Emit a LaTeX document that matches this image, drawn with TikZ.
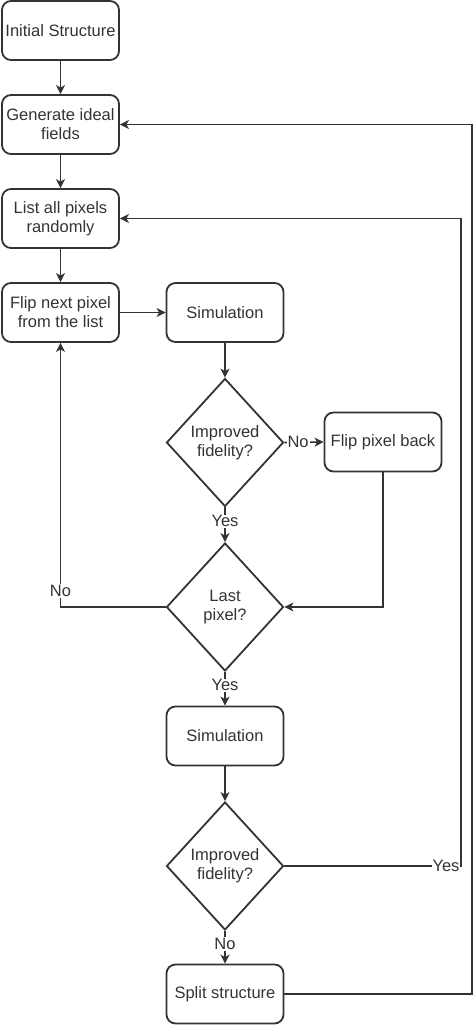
\documentclass[tikz,border=0pt]{standalone}
\usepackage{fontspec}
\setmainfont{Liberation Sans}
\usetikzlibrary{shapes.geometric,arrows.meta}
\definecolor{ink}{HTML}{333333}
\begin{document}
\begin{tikzpicture}[x=1pt,y=-1pt,
  every node/.style={font=\fontsize{16.5}{19}\selectfont, text=ink},
  proc/.style={draw=ink, line width=1.8pt, rounded corners=9pt, minimum width=117pt, minimum height=59pt, align=center, inner sep=1pt},
  dec/.style={draw=ink, line width=1.8pt, shape=diamond, minimum width=117pt, minimum height=128pt, inner sep=0pt, align=center},
  conn/.style={draw=ink, line width=1.6pt, -{Stealth[length=9pt,width=9pt,inset=2.5pt]}},
  lbl/.style={fill=white, inner sep=1pt}]
\useasboundingbox (0,0) rectangle (474,1026);
\node[proc] (init) at (60.5,30.5) {Initial Structure};
\node[proc] (gen) at (60.5,124.5) {Generate ideal\\fields};
\node[proc] (list) at (60.5,218.5) {List all pixels\\randomly};
\node[proc] (flip) at (60.5,312.5) {Flip next pixel\\from the list};
\node[proc] (sim1) at (225,312.5) {Simulation};
\node[dec] (dec1) at (225,442.5) {Improved\\fidelity?};
\node[proc] (back) at (383,442) {Flip pixel back};
\node[dec] (dec2) at (225,607) {Last\\pixel?};
\node[proc] (sim2) at (225,736) {Simulation};
\node[dec] (dec3) at (225,866) {Improved\\fidelity?};
\node[proc] (split) at (225,994) {Split structure};
\coordinate (c1) at (461,866);
\coordinate (c2) at (472,994);
\draw[conn] (init) -- (gen);
\draw[conn] (gen) -- (list);
\draw[conn] (list) -- (flip);
\draw[conn] (flip) -- (sim1);
\draw[conn] (sim1) -- (dec1);
\draw[conn] (dec1.east) -- node[lbl, pos=0.35]{No} (back.west);
\draw[conn] (dec1.south) -- node[lbl, pos=0.4]{Yes} (dec2.north);
\draw[conn] (back.south) |- (dec2.east);
\draw[conn] (dec2.west) -| node[lbl, pos=0.53]{No} (flip.south);
\draw[conn] (dec2.south) -- node[lbl, pos=0.4]{Yes} (sim2.north);
\draw[conn] (sim2) -- (dec3);
\draw[conn] (dec3.south) -- node[lbl, pos=0.4]{No} (split.north);
\draw[conn] (dec3.east) -- node[lbl, pos=0.915]{Yes} (c1) |- (list.east);
\draw[conn] (split.east) -- (c2) |- (gen.east);
\end{tikzpicture}
\end{document}
